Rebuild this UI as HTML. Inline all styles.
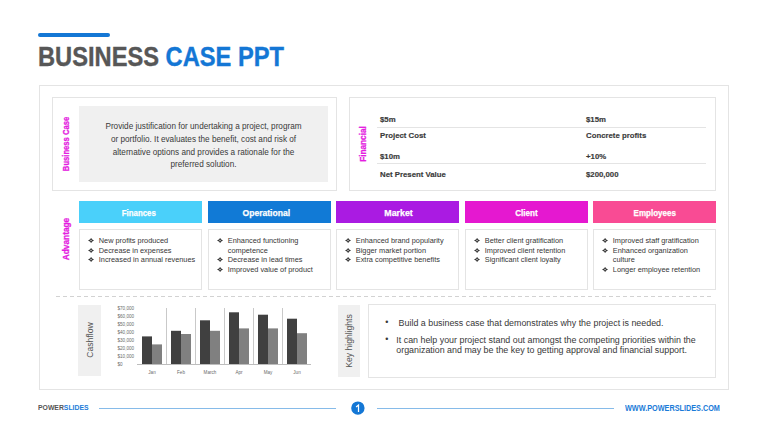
<!DOCTYPE html>
<html><head><meta charset="utf-8">
<style>
*{margin:0;padding:0;box-sizing:border-box}
html,body{width:768px;height:432px;overflow:hidden;background:#fff}
body{position:relative;font-family:"Liberation Sans",sans-serif;color:#404040}
.a{position:absolute}
.box{position:absolute;border:1px solid #e4e4e4;background:#fff}
.vt{position:absolute;white-space:nowrap;transform:translate(-50%,-50%) rotate(-90deg);line-height:1}
.mg{-webkit-text-stroke:0.3px #e41de0}
.hdr{position:absolute;-webkit-text-stroke:0.25px #fff;top:201px;height:22px;width:123px;color:#fff;font-weight:bold;font-size:9px;text-align:center;line-height:24.3px;white-space:nowrap}
.cnt{position:absolute;top:229px;height:61px;width:123px;border:1px solid #e4e4e4}
.cnt ul{list-style:none;position:absolute;left:8px;top:6.2px;font-size:7.35px;line-height:9.55px;color:#363636}
.cnt li{position:relative;padding-left:10.8px;white-space:nowrap}
.cnt li svg{position:absolute;left:0;top:1.9px;width:6.2px;height:5px}
.fin{position:absolute;font-weight:bold;font-size:7.8px;color:#3a3a3a;white-space:nowrap;line-height:1;-webkit-text-stroke:0.15px #3a3a3a}
</style></head><body>

<!-- title -->
<div class="a" style="left:38px;top:33px;width:72px;height:4px;border-radius:2px;background:#1477d5"></div>
<div class="a" style="left:38px;top:41.8px;font-weight:bold;font-size:27.3px;line-height:30px;transform:scaleX(0.867);transform-origin:0 0;white-space:nowrap;color:#575757;-webkit-text-stroke:0.4px #575757">BUSINESS <span style="color:#1477d5;-webkit-text-stroke:0.4px #1477d5">CASE PPT</span></div>

<!-- outer box -->
<div class="box" style="left:39px;top:85px;width:690px;height:305px"></div>

<!-- business case -->
<div class="box" style="left:52px;top:97px;width:285px;height:94px"></div>
<div class="a" style="left:79px;top:106px;width:249px;height:76px;background:#f0f0f0"></div>
<div class="vt mg" style="left:67.4px;top:144px;color:#e41de0;font-weight:bold;font-size:9.2px;transform:translate(-50%,-50%) rotate(-90deg) scaleX(0.83)">Business Case</div>
<div class="a" style="left:79px;top:121.2px;width:249px;text-align:center;font-size:8.2px;line-height:12.7px;color:#3a3a3a">Provide justification for undertaking a project, program<br>or portfolio. It evaluates the benefit, cost and risk of<br>alternative options and provides a rationale for the<br>preferred solution.</div>

<!-- financial -->
<div class="box" style="left:349px;top:97px;width:367px;height:94px"></div>
<div class="vt mg" style="left:363.9px;top:144px;color:#e41de0;font-weight:bold;font-size:9.2px;transform:translate(-50%,-50%) rotate(-90deg) scaleX(0.895)">Financial</div>
<div class="a" style="left:377px;top:126.5px;width:329px;height:1px;background:#e4e4e4"></div>
<div class="a" style="left:377px;top:163px;width:329px;height:1px;background:#e4e4e4"></div>
<div class="fin" style="left:380px;top:116px">$5m</div>
<div class="fin" style="left:380px;top:132px">Project Cost</div>
<div class="fin" style="left:380px;top:153px">$10m</div>
<div class="fin" style="left:380px;top:171px">Net Present Value</div>
<div class="fin" style="left:586px;top:116px">$15m</div>
<div class="fin" style="left:586px;top:132px">Concrete profits</div>
<div class="fin" style="left:586px;top:153px">+10%</div>
<div class="fin" style="left:586px;top:171px">$200,000</div>

<!-- advantage -->
<div class="vt mg" style="left:67px;top:239.2px;color:#e41de0;font-weight:bold;font-size:9.2px;transform:translate(-50%,-50%) rotate(-90deg) scaleX(0.905)">Advantage</div>
<div class="hdr" style="left:79px;background:#4ad0fa"><span style="display:inline-block;transform:translateX(-1.7px) scaleX(0.87)">Finances</span></div>
<div class="hdr" style="left:208px;background:#117ad6"><span style="display:inline-block;transform:translateX(-2.7px) scaleX(0.95)">Operational</span></div>
<div class="hdr" style="left:336px;background:#aa1be2"><span style="display:inline-block;transform:translateX(1px) scaleX(0.98)">Market</span></div>
<div class="hdr" style="left:465px;background:#e518d0"><span style="display:inline-block;transform:translateX(0px) scaleX(0.9)">Client</span></div>
<div class="hdr" style="left:593px;background:#f94b94"><span style="display:inline-block;transform:translateX(0px) scaleX(0.89)">Employees</span></div>

<div class="cnt" style="left:79px"><ul><li><svg viewBox="0 0 6 6" preserveAspectRatio="none"><path d="M3 0L4.2 1.8L3 2.6L1.8 1.8Z M6 3L4.2 4.2L3.4 3L4.2 1.8Z M3 6L1.8 4.2L3 3.4L4.2 4.2Z M0 3L1.8 1.8L2.6 3L1.8 4.2Z" fill="#333"/></svg>New profits produced</li><li><svg viewBox="0 0 6 6" preserveAspectRatio="none"><path d="M3 0L4.2 1.8L3 2.6L1.8 1.8Z M6 3L4.2 4.2L3.4 3L4.2 1.8Z M3 6L1.8 4.2L3 3.4L4.2 4.2Z M0 3L1.8 1.8L2.6 3L1.8 4.2Z" fill="#333"/></svg>Decrease in expenses</li><li><svg viewBox="0 0 6 6" preserveAspectRatio="none"><path d="M3 0L4.2 1.8L3 2.6L1.8 1.8Z M6 3L4.2 4.2L3.4 3L4.2 1.8Z M3 6L1.8 4.2L3 3.4L4.2 4.2Z M0 3L1.8 1.8L2.6 3L1.8 4.2Z" fill="#333"/></svg>Increased in annual revenues</li></ul></div>
<div class="cnt" style="left:208px"><ul><li><svg viewBox="0 0 6 6" preserveAspectRatio="none"><path d="M3 0L4.2 1.8L3 2.6L1.8 1.8Z M6 3L4.2 4.2L3.4 3L4.2 1.8Z M3 6L1.8 4.2L3 3.4L4.2 4.2Z M0 3L1.8 1.8L2.6 3L1.8 4.2Z" fill="#333"/></svg>Enhanced functioning<br>competence</li><li><svg viewBox="0 0 6 6" preserveAspectRatio="none"><path d="M3 0L4.2 1.8L3 2.6L1.8 1.8Z M6 3L4.2 4.2L3.4 3L4.2 1.8Z M3 6L1.8 4.2L3 3.4L4.2 4.2Z M0 3L1.8 1.8L2.6 3L1.8 4.2Z" fill="#333"/></svg>Decrease in lead times</li><li><svg viewBox="0 0 6 6" preserveAspectRatio="none"><path d="M3 0L4.2 1.8L3 2.6L1.8 1.8Z M6 3L4.2 4.2L3.4 3L4.2 1.8Z M3 6L1.8 4.2L3 3.4L4.2 4.2Z M0 3L1.8 1.8L2.6 3L1.8 4.2Z" fill="#333"/></svg>Improved value of product</li></ul></div>
<div class="cnt" style="left:336px"><ul><li><svg viewBox="0 0 6 6" preserveAspectRatio="none"><path d="M3 0L4.2 1.8L3 2.6L1.8 1.8Z M6 3L4.2 4.2L3.4 3L4.2 1.8Z M3 6L1.8 4.2L3 3.4L4.2 4.2Z M0 3L1.8 1.8L2.6 3L1.8 4.2Z" fill="#333"/></svg>Enhanced brand popularity</li><li><svg viewBox="0 0 6 6" preserveAspectRatio="none"><path d="M3 0L4.2 1.8L3 2.6L1.8 1.8Z M6 3L4.2 4.2L3.4 3L4.2 1.8Z M3 6L1.8 4.2L3 3.4L4.2 4.2Z M0 3L1.8 1.8L2.6 3L1.8 4.2Z" fill="#333"/></svg>Bigger market portion</li><li><svg viewBox="0 0 6 6" preserveAspectRatio="none"><path d="M3 0L4.2 1.8L3 2.6L1.8 1.8Z M6 3L4.2 4.2L3.4 3L4.2 1.8Z M3 6L1.8 4.2L3 3.4L4.2 4.2Z M0 3L1.8 1.8L2.6 3L1.8 4.2Z" fill="#333"/></svg>Extra competitive benefits</li></ul></div>
<div class="cnt" style="left:465px"><ul><li><svg viewBox="0 0 6 6" preserveAspectRatio="none"><path d="M3 0L4.2 1.8L3 2.6L1.8 1.8Z M6 3L4.2 4.2L3.4 3L4.2 1.8Z M3 6L1.8 4.2L3 3.4L4.2 4.2Z M0 3L1.8 1.8L2.6 3L1.8 4.2Z" fill="#333"/></svg>Better client gratification</li><li><svg viewBox="0 0 6 6" preserveAspectRatio="none"><path d="M3 0L4.2 1.8L3 2.6L1.8 1.8Z M6 3L4.2 4.2L3.4 3L4.2 1.8Z M3 6L1.8 4.2L3 3.4L4.2 4.2Z M0 3L1.8 1.8L2.6 3L1.8 4.2Z" fill="#333"/></svg>Improved client retention</li><li><svg viewBox="0 0 6 6" preserveAspectRatio="none"><path d="M3 0L4.2 1.8L3 2.6L1.8 1.8Z M6 3L4.2 4.2L3.4 3L4.2 1.8Z M3 6L1.8 4.2L3 3.4L4.2 4.2Z M0 3L1.8 1.8L2.6 3L1.8 4.2Z" fill="#333"/></svg>Significant client loyalty</li></ul></div>
<div class="cnt" style="left:593px"><ul><li><svg viewBox="0 0 6 6" preserveAspectRatio="none"><path d="M3 0L4.2 1.8L3 2.6L1.8 1.8Z M6 3L4.2 4.2L3.4 3L4.2 1.8Z M3 6L1.8 4.2L3 3.4L4.2 4.2Z M0 3L1.8 1.8L2.6 3L1.8 4.2Z" fill="#333"/></svg>Improved staff gratification</li><li><svg viewBox="0 0 6 6" preserveAspectRatio="none"><path d="M3 0L4.2 1.8L3 2.6L1.8 1.8Z M6 3L4.2 4.2L3.4 3L4.2 1.8Z M3 6L1.8 4.2L3 3.4L4.2 4.2Z M0 3L1.8 1.8L2.6 3L1.8 4.2Z" fill="#333"/></svg>Enhanced organization<br>culture</li><li><svg viewBox="0 0 6 6" preserveAspectRatio="none"><path d="M3 0L4.2 1.8L3 2.6L1.8 1.8Z M6 3L4.2 4.2L3.4 3L4.2 1.8Z M3 6L1.8 4.2L3 3.4L4.2 4.2Z M0 3L1.8 1.8L2.6 3L1.8 4.2Z" fill="#333"/></svg>Longer employee retention</li></ul></div>

<!-- dashed -->
<div class="a" style="left:56px;top:296px;width:655px;height:1px;background:repeating-linear-gradient(90deg,#d2d2d2 0 4px,transparent 4px 7px)"></div>

<!-- cashflow -->
<div class="a" style="left:78px;top:305px;width:23px;height:71px;background:#f0f0f0"></div>
<div class="vt" style="left:90px;top:339.5px;color:#555;font-size:8.6px">Cashflow</div>

<!-- key highlights -->
<div class="a" style="left:338px;top:305px;width:22px;height:72px;background:#f0f0f0"></div>
<div class="vt" style="left:349px;top:340.5px;color:#555;font-size:8.6px">Key highlights</div>
<div class="box" style="left:368px;top:304px;width:348px;height:74px"></div>

<!-- chart -->
<svg class="a" font-family="Liberation Sans" font-size="4.6" fill="#6a6a6a" style="left:0;top:0" width="768" height="432" viewBox="0 0 768 432">
<line x1="166.5" y1="308" x2="166.5" y2="364" stroke="#c9c9c9" stroke-width="1"/>
<line x1="195.5" y1="308" x2="195.5" y2="364" stroke="#c9c9c9" stroke-width="1"/>
<line x1="224.5" y1="308" x2="224.5" y2="364" stroke="#c9c9c9" stroke-width="1"/>
<line x1="253.5" y1="308" x2="253.5" y2="364" stroke="#c9c9c9" stroke-width="1"/>
<line x1="282.5" y1="308" x2="282.5" y2="364" stroke="#c9c9c9" stroke-width="1"/>
<rect x="142" y="336.4" width="10" height="28.1" fill="#404040"/>
<rect x="152" y="344.4" width="10" height="20.1" fill="#808080"/>
<rect x="171" y="330.8" width="10" height="33.7" fill="#404040"/>
<rect x="181" y="334.0" width="10" height="30.5" fill="#808080"/>
<rect x="200" y="320.3" width="10" height="44.2" fill="#404040"/>
<rect x="210" y="330.8" width="10" height="33.7" fill="#808080"/>
<rect x="229" y="312.3" width="10" height="52.2" fill="#404040"/>
<rect x="239" y="328.4" width="10" height="36.1" fill="#808080"/>
<rect x="258" y="314.7" width="10" height="49.8" fill="#404040"/>
<rect x="268" y="328.4" width="10" height="36.1" fill="#808080"/>
<rect x="287" y="318.7" width="10" height="45.8" fill="#404040"/>
<rect x="297" y="333.2" width="10" height="31.3" fill="#808080"/>
<text x="152" y="373.5" text-anchor="middle">Jan</text>
<text x="181" y="373.5" text-anchor="middle">Feb</text>
<text x="210" y="373.5" text-anchor="middle">March</text>
<text x="239" y="373.5" text-anchor="middle">Apr</text>
<text x="268" y="373.5" text-anchor="middle">May</text>
<text x="297" y="373.5" text-anchor="middle">Jun</text>
<line x1="137" y1="364.5" x2="311" y2="364.5" stroke="#bdbdbd" stroke-width="1"/>
<text x="117.5" y="309.9">$70,000</text>
<text x="117.5" y="317.9">$60,000</text>
<text x="117.5" y="326.0">$50,000</text>
<text x="117.5" y="334.0">$40,000</text>
<text x="117.5" y="342.0">$30,000</text>
<text x="117.5" y="350.0">$20,000</text>
<text x="117.5" y="358.1">$10,000</text>
<text x="117.5" y="366.1">$0</text>
</svg>
<div class="a" style="left:368px;top:304px;width:348px;font-size:8.9px;line-height:11.1px;color:#383838;white-space:nowrap">
<div class="a" style="left:17.2px;top:13.3px">&#8226;</div><div class="a" style="left:30.6px;top:13.5px">Build a business case that demonstrates why the project is needed.</div>
<div class="a" style="left:17.2px;top:30.3px">&#8226;</div><div class="a" style="left:28.3px;top:30.5px;line-height:10.9px">It can help your project stand out amongst the competing priorities within the<br>organization and may be the key to getting approval and financial support.</div>
</div>

<!-- footer -->
<div class="a" style="left:37.5px;top:402.6px;font-weight:bold;font-size:8px;line-height:10px;color:#555;white-space:nowrap;transform:scaleX(0.855);transform-origin:0 0">POWER<span style="color:#1a7bd8">SLIDES</span></div>
<div class="a" style="left:99px;top:408px;width:237px;height:1px;background:#86bbe9"></div>
<div class="a" style="left:377px;top:408px;width:237px;height:1px;background:#86bbe9"></div>
<svg class="a" style="left:0;top:0" width="768" height="432"><circle cx="357.9" cy="408.1" r="6.7" fill="#1477d5"/><path d="M356.1 406.9L358.5 405V412" stroke="#fff" stroke-width="1.25" fill="none"/></svg>
<div class="a" style="left:625px;top:403px;font-weight:bold;font-size:8.5px;line-height:10px;color:#1a7bd8;white-space:nowrap;transform:scaleX(0.855);transform-origin:0 0">WWW.POWERSLIDES.COM</div>

</body></html>
